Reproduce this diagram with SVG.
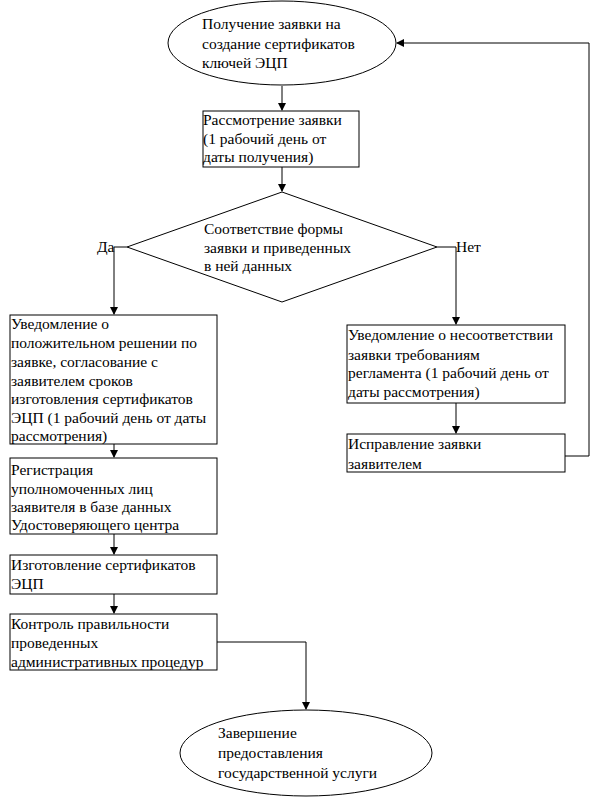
<svg xmlns="http://www.w3.org/2000/svg" width="612" height="807" viewBox="0 0 612 807">
<style>
.s{fill:#fff;stroke:#000;stroke-width:1}
text{font-family:"Liberation Serif","Times New Roman",serif;font-size:15.5px;fill:#000}
.c{fill:none;stroke:#000;stroke-width:1}
</style>
<defs><marker id="a" markerWidth="8" markerHeight="8" refX="7" refY="4" orient="auto" markerUnits="userSpaceOnUse"><path d="M0,0L8,4L0,8z" fill="#000"/></marker></defs>
<rect width="612" height="807" fill="#fff"/>
<g id="connectors">
<path class="c" d="M282,86V110" marker-end="url(#a)"/>
<path class="c" d="M282,167V191" marker-end="url(#a)"/>
<path class="c" d="M127,247H114V314" marker-end="url(#a)"/>
<path class="c" d="M437,247H456V324" marker-end="url(#a)"/>
<path class="c" d="M456,403V433" marker-end="url(#a)"/>
<path class="c" d="M565,456H589V43H397" marker-end="url(#a)"/>
<path class="c" d="M114,444V457" marker-end="url(#a)"/>
<path class="c" d="M114,534V554" marker-end="url(#a)"/>
<path class="c" d="M114,594V613" marker-end="url(#a)"/>
<path class="c" d="M217,642H306V709" marker-end="url(#a)"/>
</g>
<g id="start"><ellipse class="s" cx="282" cy="43" rx="114" ry="42"/>
<text x="202" y="29">Получение заявки на</text><text x="202" y="49">создание сертификатов</text><text x="202" y="68">ключей ЭЦП</text></g>
<g id="review"><rect class="s" x="203" y="111" width="156" height="56"/>
<text x="203" y="125">Рассмотрение заявки</text><text x="203" y="144">(1 рабочий день от</text><text x="203" y="162">даты получения)</text></g>
<g id="decision"><path class="s" d="M282,192L437,247L282,302L127,247z"/>
<text x="204" y="234">Соответствие формы</text><text x="204" y="253">заявки и приведенных</text><text x="204" y="271">в ней данных</text>
<text x="97" y="252">Да</text><text x="456" y="252">Нет</text></g>
<g id="notify-ok"><rect class="s" x="10" y="315" width="207" height="129"/>
<text x="11" y="329">Уведомление о</text><text x="11" y="348">положительном решении по</text><text x="11" y="367">заявке, согласование с</text><text x="11" y="386">заявителем сроков</text><text x="11" y="404">изготовления сертификатов</text><text x="11" y="423">ЭЦП (1 рабочий день от даты</text><text x="11" y="441">рассмотрения)</text></g>
<g id="register"><rect class="s" x="10" y="458" width="207" height="76"/>
<text x="11" y="475">Регистрация</text><text x="11" y="494">уполномоченных лиц</text><text x="11" y="512">заявителя в базе данных</text><text x="11" y="530">Удостоверяющего центра</text></g>
<g id="make"><rect class="s" x="10" y="555" width="207" height="39"/>
<text x="11" y="570">Изготовление сертификатов</text><text x="11" y="589">ЭЦП</text></g>
<g id="control"><rect class="s" x="10" y="614" width="207" height="56"/>
<text x="11" y="629">Контроль правильности</text><text x="11" y="648">проведенных</text><text x="11" y="667">административных процедур</text></g>
<g id="end"><ellipse class="s" cx="306" cy="753" rx="126" ry="43"/>
<text x="218" y="738">Завершение</text><text x="218" y="758">предоставления</text><text x="218" y="778">государственной услуги</text></g>
<g id="notify-no"><rect class="s" x="347" y="325" width="218" height="78"/>
<text x="348" y="340">Уведомление о несоответствии</text><text x="348" y="360">заявки требованиям</text><text x="348" y="378">регламента (1 рабочий день от</text><text x="348" y="397">даты рассмотрения)</text></g>
<g id="fix"><rect class="s" x="347" y="434" width="218" height="38"/>
<text x="348" y="449">Исправление заявки</text><text x="348" y="469">заявителем</text></g>
</svg>
